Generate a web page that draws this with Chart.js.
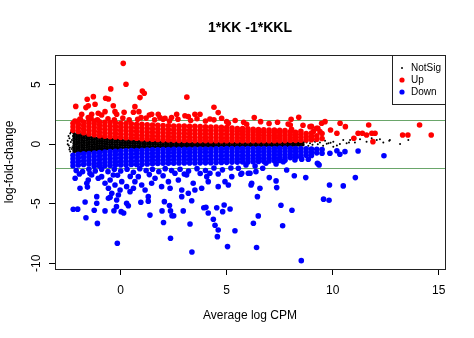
<!DOCTYPE html>
<html>
<head>
<meta charset="utf-8">
<script src="https://cdn.jsdelivr.net/npm/chart.js@4"></script>
<style>
  body { margin: 0; background: #fff; }
  canvas { display: block; }
</style>
</head>
<body>
<canvas id="mdPlot" width="474" height="338"></canvas>
<script>
const plotTitle = '1*KK -1*KKL';
const xTitle = 'Average log CPM';
const yTitle = 'log-fold-change';
const xTicks = [0, 5, 10, 15];
const yTicks = [-10, -5, 0, 5];
const cutoffLines = [2, -2];
const legendLabels = ['NotSig', 'Up', 'Down'];

// dense part of the cloud, one column per entry: [logCPM, logFC, logFC, ...]
const notSigBand = [
  [-2.2, 0.9, 0.7, 0.5, 0.3, 0.1, -0.1, -0.3, -0.5, -0.65],
  [-2.08, 0.8, 0.6, 0.4, 0.2, 0.0, -0.2, -0.4, -0.6],
  [-1.96, 0.88, 0.68, 0.48, 0.28, 0.08, -0.12, -0.32, -0.52, -0.65],
  [-1.84, 0.76, 0.56, 0.36, 0.16, -0.04, -0.24, -0.44, -0.6],
  [-1.72, 0.7, 0.5, 0.3, 0.1, -0.1, -0.3, -0.5, -0.6],
  [-1.6, 0.74, 0.54, 0.34, 0.14, -0.06, -0.26, -0.46, -0.58],
  [-1.48, 0.62, 0.42, 0.22, 0.02, -0.18, -0.38, -0.54],
  [-1.36, 0.56, 0.36, 0.16, -0.04, -0.24, -0.44, -0.55],
  [-1.24, 0.6, 0.4, 0.2, 0.0, -0.2, -0.4, -0.52],
  [-1.12, 0.5, 0.3, 0.1, -0.1, -0.3, -0.48],
  [-1.0, 0.46, 0.26, 0.06, -0.14, -0.34, -0.48],
  [-0.88, 0.5, 0.3, 0.1, -0.1, -0.3, -0.46],
  [-0.76, 0.44, 0.24, 0.04, -0.16, -0.36, -0.44],
  [-0.64, 0.4, 0.2, 0.0, -0.2, -0.38],
  [-0.52, 0.36, 0.16, -0.04, -0.24, -0.4],
  [-0.4, 0.4, 0.2, 0.0, -0.2, -0.36],
  [-0.28, 0.36, 0.16, -0.04, -0.24, -0.38],
  [-0.16, 0.38, 0.18, -0.02, -0.22, -0.36],
  [-0.04, 0.34, 0.14, -0.06, -0.26, -0.36],
  [0.08, 0.32, 0.12, -0.08, -0.28],
  [0.2, 0.3, 0.1, -0.1, -0.3],
  [0.32, 0.32, 0.12, -0.08, -0.28],
  [0.44, 0.28, 0.08, -0.12, -0.3],
  [0.56, 0.3, 0.1, -0.1, -0.28],
  [0.68, 0.26, 0.06, -0.14, -0.3],
  [0.8, 0.28, 0.08, -0.12, -0.28],
  [0.92, 0.24, 0.04, -0.16, -0.28],
  [1.04, 0.22, 0.02, -0.18, -0.26],
  [1.16, 0.24, 0.04, -0.16, -0.26],
  [1.28, 0.2, 0.0, -0.2, -0.26],
  [1.4, 0.22, 0.02, -0.18, -0.24],
  [1.52, 0.18, -0.02, -0.22],
  [1.64, 0.2, 0.0, -0.2],
  [1.76, 0.16, -0.04, -0.22],
  [1.88, 0.18, -0.02, -0.2],
  [2.0, 0.14, -0.06, -0.22],
  [2.12, 0.15, -0.02, -0.2],
  [2.24, 0.12, -0.06, -0.2],
  [2.36, 0.14, -0.04, -0.2],
  [2.48, 0.12, -0.06, -0.2],
  [2.6, 0.13, -0.05, -0.19],
  [2.72, 0.1, -0.08, -0.2],
  [2.84, 0.12, -0.05, -0.19],
  [2.96, 0.1, -0.08, -0.19],
  [3.08, 0.12, -0.05, -0.18],
  [3.2, 0.1, -0.07, -0.18],
  [3.32, 0.12, -0.05, -0.18],
  [3.44, 0.1, -0.08, -0.18],
  [3.56, 0.12, -0.05, -0.17],
  [3.68, 0.1, -0.07, -0.17],
  [3.8, 0.11, -0.05, -0.17],
  [3.92, 0.1, -0.07, -0.17],
  [4.04, 0.1, -0.06, -0.16],
  [4.16, 0.09, -0.07, -0.16],
  [4.28, 0.1, -0.06, -0.16],
  [4.4, 0.09, -0.08, -0.16],
  [4.52, 0.08, -0.1], [4.64, 0.06, -0.12], [4.76, 0.08, -0.1], [4.88, 0.06, -0.12],
  [5.0, 0.08, -0.1], [5.12, 0.06, -0.12], [5.24, 0.08, -0.1], [5.36, 0.06, -0.12],
  [5.48, 0.08, -0.1], [5.6, 0.06, -0.12], [5.72, 0.08, -0.1], [5.84, 0.06, -0.12],
  [5.96, 0.08, -0.1], [6.08, 0.06, -0.11], [6.2, 0.08, -0.1], [6.32, 0.06, -0.11],
  [6.44, 0.08, -0.1], [6.56, 0.06, -0.11], [6.68, 0.08, -0.1], [6.8, 0.06, -0.11],
  [6.92, 0.08, -0.1], [7.04, 0.06, -0.11], [7.16, 0.08, -0.1], [7.28, 0.06, -0.1],
  [7.4, 0.08, -0.1], [7.52, 0.06, -0.1], [7.64, 0.08, -0.1], [7.76, 0.06, -0.1],
  [7.88, 0.08, -0.1], [8.0, 0.06, -0.1], [8.12, 0.1, -0.08], [8.24, 0.05, -0.12],
  [8.36, 0.12, -0.06], [8.48, 0.04, -0.14], [8.6, 0.14, -0.04]
];

// loose black points, left edge and the high-CPM tail
const notSigX = [-2.38, -2.42, -2.35, -2.45, -2.3, -2.38, -2.3, -2.25, -2.3, -2.22, -2.28, -2.46, -2.5, -2.4, -2.35, -2.5, -2.42,
  8.77, 8.93, 9.17, 9.4, 9.64, 9.8, 10.03, 10.34, 10.5, 10.66, 10.82, 11.05, 11.29, 11.6, 11.84, 12.08, 12.39, 12.7, 13.18, 13.57,
  10.03, 10.77, 12.67, 12.23, 9.05, 9.3, 9.55, 9.72, 10.2, 8.85, 9.9];
const notSigY = [0.9, 0.5, 0.2, -0.1, -0.4, -0.6, 1.1, 0.7, 0.35, 0.05, -0.25, 0.7, 0.3, -0.3, 1.0, 0.0, -0.45,
  0.14, 0.08, 0.22, 0.14, 0.3, 0.08, 0.22, 0.03, 0.36, 0.08, 0.36, 0.14, 0.42, 0.22, 0.5, 0.36, 0.14, 0.36, 0.03, 0.36,
  -0.2, 0.14, 0.3, 0.42, -0.05, 0.0, -0.12, 0.05, -0.1, -0.12, 0.12];

const upBand = [
  [-2.25, 1.17, 1.47, 1.77],
  [-2.0, 1.07, 1.37, 1.67, 1.95],
  [-1.75, 0.97, 1.27, 1.57, 1.87],
  [-1.5, 0.87, 1.17, 1.47, 1.77, 2.0],
  [-1.25, 0.8, 1.1, 1.4, 1.7, 1.95],
  [-1.0, 0.72, 1.0, 1.3, 1.6, 1.88],
  [-0.75, 0.68, 0.96, 1.26, 1.56, 1.84],
  [-0.5, 0.64, 0.92, 1.22, 1.52, 1.82],
  [-0.25, 0.61, 0.9, 1.2, 1.5, 1.8],
  [0.0, 0.58, 0.86, 1.16, 1.46, 1.76],
  [0.25, 0.55, 0.84, 1.14, 1.44, 1.74],
  [0.5, 0.53, 0.8, 1.1, 1.4, 1.72],
  [0.75, 0.5, 0.78, 1.08, 1.38, 1.68],
  [1.0, 0.47, 0.76, 1.06, 1.36, 1.68],
  [1.25, 0.45, 0.72, 1.02, 1.32, 1.64],
  [1.5, 0.42, 0.7, 1.0, 1.3, 1.62],
  [1.75, 0.4, 0.68, 0.98, 1.28, 1.6],
  [2.0, 0.37, 0.66, 0.96, 1.26, 1.58],
  [2.25, 0.36, 0.63, 0.93, 1.23, 1.55],
  [2.5, 0.35, 0.62, 0.92, 1.22, 1.54],
  [2.75, 0.33, 0.6, 0.9, 1.2, 1.52],
  [3.0, 0.32, 0.6, 0.9, 1.2, 1.52],
  [3.25, 0.32, 0.58, 0.88, 1.18, 1.5],
  [3.5, 0.31, 0.58, 0.88, 1.18, 1.5],
  [3.75, 0.31, 0.57, 0.87, 1.17, 1.48],
  [4.0, 0.31, 0.57, 0.87, 1.17, 1.47],
  [4.25, 0.3, 0.56, 0.86, 1.16, 1.45],
  [4.5, 0.3, 0.56, 0.86, 1.16, 1.44],
  [4.75, 0.3, 0.55, 0.85, 1.15, 1.42],
  [5.0, 0.3, 0.55, 0.85, 1.15, 1.4],
  [5.25, 0.3, 0.55, 0.84, 1.12, 1.36],
  [5.5, 0.3, 0.54, 0.83, 1.1, 1.33],
  [5.75, 0.3, 0.54, 0.82, 1.08, 1.32],
  [6.0, 0.3, 0.54, 0.8, 1.06, 1.3],
  [6.25, 0.3, 0.53, 0.78, 1.04, 1.26],
  [6.5, 0.3, 0.53, 0.78, 1.02, 1.24],
  [6.75, 0.3, 0.53, 0.76, 1.0, 1.22],
  [7.0, 0.3, 0.52, 0.76, 1.0, 1.2],
  [7.25, 0.3, 0.52, 0.74, 0.98, 1.2],
  [7.5, 0.3, 0.52, 0.74, 0.98, 1.18],
  [7.75, 0.31, 0.53, 0.76, 0.98, 1.16],
  [8.0, 0.32, 0.55, 0.8, 1.04],
  [8.25, 0.33, 0.56, 0.8, 1.0],
  [8.5, 0.34, 0.58, 0.84, 1.08],
  [8.75, 0.36, 0.62, 0.9],
  [9.0, 0.38, 0.66, 0.95],
  [9.25, 0.42, 0.72],
  [9.5, 0.48, 0.9]
];

const upX = [0.12, 0.25, -0.47, 1.02, 1.11, 0.91, 3.12, -1.29, -1.58, -0.71, -0.58, -1.21, -1.53, -1.64, -2.12, -0.35, 0.67, 4.4, 4.6,
  -0.74, -0.9, -1.06, -0.27, -0.19, -1.37, -1.53, -1.84, 0.16, 0.6, 0.86, 0.96, 1.46, 1.35, 1.77, 1.85, 2.09, 2.4, 2.64, 3.03, 3.19,
  3.5, 3.74, 4.21, 4.76, -2.16, -1.92, 5.08, 5.94, 6.3, 8.04, 8.4, 9.64, 9.9, 10.2, 10.35, 10.6, 11.2, 11.4, 11.6, 11.7, 11.85, 12.0,
  11.9, 13.3, 13.55, 14.1, 14.65, 9.1, 11.0, 8.0, 8.06, 8.93, 9.24, 9.48, 9.4,
  -1.9, -1.4, -1.1, -0.6, -0.3, 0.1, 0.4, 0.8, 1.2, 1.6, 2.0, 2.3, 2.7, 3.3, 3.6, 4.0, 4.4, 5.0, 5.4, 5.8, 6.6, 7.0, 7.4, 7.9, 8.6, 9.0, 9.3];
const upY = [6.8, 5.04, 4.65, 4.48, 4.29, 3.92, 3.96, 4.0, 3.78, 3.87, 3.8, 3.36, 3.24, 3.08, 3.18, 3.24, 3.16, 3.11, 2.66,
  2.74, 2.46, 2.6, 2.74, 2.52, 2.52, 2.24, 2.52, 2.69, 2.69, 2.74, 2.24, 2.52, 2.46, 2.52, 2.24, 2.18, 2.24, 2.52, 2.4, 2.32,
  2.52, 2.52, 2.12, 2.18, 1.96, 2.12, 1.76, 1.68, 2.24, 2.1, 2.26, 1.9, 1.2, 0.92, 1.76, 1.48, 0.92, 0.92, 0.78, 1.62, 0.92, 0.92,
  0.22, 0.78, 0.78, 1.62, 0.78, 1.1, 0.5, 1.62, 1.26, 1.48, 1.34, 1.76, 1.06,
  2.1, 2.2, 2.05, 2.15, 2.05, 2.2, 2.05, 2.1, 2.2, 2.05, 2.1, 1.95, 2.1, 2.0, 2.15, 1.95, 2.05, 1.9, 2.0, 1.85, 1.9, 1.75, 1.85, 1.7, 1.6, 1.5, 1.35];

const downBand = [
  [-2.25, -0.92, -1.22, -1.52, -1.8],
  [-2.0, -0.84, -1.14, -1.44, -1.74],
  [-1.75, -0.8, -1.1, -1.4, -1.7],
  [-1.5, -0.77, -1.06, -1.36, -1.66],
  [-1.25, -0.73, -1.02, -1.32, -1.62, -1.85],
  [-1.0, -0.7, -1.0, -1.3, -1.6, -1.82],
  [-0.75, -0.66, -0.95, -1.25, -1.55, -1.8],
  [-0.5, -0.62, -0.9, -1.2, -1.5, -1.78],
  [-0.25, -0.6, -0.88, -1.18, -1.48, -1.75],
  [0.0, -0.57, -0.86, -1.16, -1.46, -1.74],
  [0.25, -0.55, -0.84, -1.14, -1.44, -1.72],
  [0.5, -0.53, -0.82, -1.12, -1.42, -1.7],
  [0.75, -0.52, -0.8, -1.1, -1.4, -1.7],
  [1.0, -0.5, -0.78, -1.08, -1.38, -1.68],
  [1.25, -0.49, -0.77, -1.07, -1.37, -1.66],
  [1.5, -0.47, -0.75, -1.05, -1.35, -1.64],
  [1.75, -0.46, -0.74, -1.04, -1.34, -1.62],
  [2.0, -0.44, -0.72, -1.02, -1.32, -1.6],
  [2.25, -0.44, -0.72, -1.02, -1.32, -1.6],
  [2.5, -0.43, -0.71, -1.01, -1.31, -1.6],
  [2.75, -0.43, -0.7, -1.0, -1.3, -1.58],
  [3.0, -0.42, -0.7, -1.0, -1.3, -1.58],
  [3.25, -0.42, -0.7, -0.99, -1.29, -1.57],
  [3.5, -0.41, -0.69, -0.99, -1.29, -1.57],
  [3.75, -0.41, -0.68, -0.98, -1.28, -1.56],
  [4.0, -0.4, -0.68, -0.98, -1.28, -1.56],
  [4.25, -0.4, -0.67, -0.97, -1.27, -1.55],
  [4.5, -0.39, -0.66, -0.96, -1.26, -1.54],
  [4.75, -0.38, -0.66, -0.96, -1.26, -1.53],
  [5.0, -0.37, -0.65, -0.95, -1.25, -1.52],
  [5.25, -0.37, -0.65, -0.95, -1.24, -1.5],
  [5.5, -0.37, -0.64, -0.94, -1.23, -1.5],
  [5.75, -0.36, -0.64, -0.94, -1.22, -1.49],
  [6.0, -0.36, -0.64, -0.94, -1.22, -1.48],
  [6.25, -0.36, -0.63, -0.92, -1.2, -1.46],
  [6.5, -0.36, -0.63, -0.92, -1.2, -1.44],
  [6.75, -0.35, -0.62, -0.9, -1.18, -1.42],
  [7.0, -0.35, -0.62, -0.9, -1.18, -1.4],
  [7.25, -0.35, -0.61, -0.89, -1.16, -1.38],
  [7.5, -0.34, -0.61, -0.88, -1.15, -1.36],
  [7.75, -0.34, -0.6, -0.88, -1.14, -1.34],
  [8.0, -0.34, -0.6, -0.88, -1.12],
  [8.25, -0.35, -0.61, -0.88, -1.1],
  [8.5, -0.36, -0.62, -0.9, -1.1],
  [8.75, -0.38, -0.65, -0.92],
  [9.0, -0.4, -0.68, -0.95],
  [9.25, -0.42, -0.72],
  [9.5, -0.45, -0.75]
];

const downX = [-2.15, -1.92, -1.53, -1.68, -2.24, -2.03, -1.64, -1.13, -1.25, -1.1, -0.74, -0.32, -0.2, 0.02, 0.14, -0.16, -0.58, -0.42,
  -0.11, 0.28, 0.36, 0.95, 1.3, 1.38, 2.06, 1.95, 2.02, 2.3, 2.35, 2.42, 2.5, 2.35, 2.95, 3.27, 3.35, 3.36, 3.92, 4.02, 4.13, 4.37,
  4.53, 4.45, 4.6, 4.56, 4.81, 4.88, 5.16, 5.04, 5.39, 6.26, 6.41, 6.49, 7.56, 8.08, 7.64, 8.52, 9.57, 9.83, 9.85, 10.5, 11.07, 8.73,
  8.19, 7.83, 7.33, 7.01, 7.36, 6.57, 6.15, 6.45, 5.67, 6.1, 6.38, 6.7, 5.91, 6.34, 6.85, 7.33, 7.67, 8.22, 8.54, 8.85, 9.36, 9.28,
  9.33, 9.87, 10.2, 10.34, 10.58, 11.2, 12.42,
  -1.6, -1.37, -1.06, -0.9, -0.74, -0.58, -0.5, -0.35, -0.27, -0.03, 0.05, 0.28, 0.44, 0.6, 0.67, 0.83, 0.99, 1.15, 1.3, 1.46,
  1.62, 1.93, 2.25, 2.33, 2.56, 2.72, 2.88, 3.11, 3.19, 3.42, 3.5, 3.82, 4.06, 4.13, 4.21, 4.6, 4.92, 5.08, 5.24, 5.55, 5.71, 6.02, 6.18,
  -1.57, -1.13, -0.5, -0.19, 2.88,
  -2.1, -1.8, -1.5, -1.2, -0.9, -0.6, -0.3, 0.0, 0.3, 0.6, 0.9, 1.2, 1.5, 1.8, 2.1, 2.4, 2.8, 3.2, 3.6, 4.0, 4.4, 4.8, 5.2,
  -1.95, -1.45, -0.15, 0.45, 1.35, 2.0, 3.0, 3.75, 4.6];
const downY = [-2.86, -3.7, -3.0, -4.85, -5.46, -5.45, -6.17, -4.96, -5.55, -6.65, -5.6, -5.58, -5.24, -5.66, -5.78, -8.32, -4.54, -4.12,
  -4.26, -4.96, -5.16, -4.87, -4.78, -5.95, -4.82, -5.6, -6.57, -5.14, -5.6, -6.0, -6.0, -7.9, -5.6, -6.7, -4.74, -9.05, -5.33, -5.3, -5.78, -6.3,
  -5.33, -6.8, -7.2, -7.76, -5.66, -5.1, -5.44, -8.6, -7.26, -6.64, -8.67, -6.02, -5.13, -5.55, -6.84, -9.78, -4.61, -4.71, -3.42, -3.5, -2.8, -2.8,
  -2.64, -2.16, -3.08, -2.8, -3.64, -3.7, -3.42, -4.4, -2.52, -2.44, -2.3, -2.02, -1.74, -1.82, -1.6, -1.66, -1.46, -1.32, -1.26, -1.26, -1.74, -1.6,
  -1.68, -0.76, -0.54, -0.84, -0.62, -0.56, -0.96,
  -3.28, -2.58, -2.86, -2.72, -3.28, -3.7, -3.0, -2.58, -3.42, -3.84, -3.14, -3.56, -3.98, -3.7, -3.14, -2.72, -3.42, -3.84, -4.4, -3.28,
  -2.86, -3.56, -3.14, -3.7, -2.44, -3.0, -3.84, -2.58, -4.12, -3.28, -3.84, -3.7, -2.72, -3.14, -2.44, -3.56, -3.14, -3.42, -2.72, -2.02, -2.44, -2.44, -3.28,
  -3.6, -4.4, -4.45, -4.68, -4.4,
  -2.2, -2.3, -2.1, -2.25, -2.1, -2.3, -2.1, -2.25, -2.1, -2.35, -2.05, -2.2, -2.1, -2.3, -2.05, -2.2, -2.1, -2.25, -2.05, -2.2, -2.0, -2.15, -2.0,
  -2.5, -2.45, -2.6, -2.7, -2.55, -2.65, -2.5, -2.45, -2.5];

function bandPoints(cols) {
  const pts = [];
  cols.forEach(c => {
    for (let i = 1; i < c.length; i++) pts.push({x: c[0], y: c[i]});
  });
  return pts;
}

function listPoints(xs, ys) {
  return xs.map((x, i) => ({x: x, y: ys[i]}));
}

const font = 'Liberation Sans, Arial, sans-serif';
const notSigCore = bandPoints(notSigBand);

const decor = {
  id: 'decor',
  beforeDatasetsDraw(chart) {
    const {ctx, chartArea} = chart;
    const ys = chart.scales.y;
    ctx.save();
    ctx.strokeStyle = '#6aa66a';
    ctx.lineWidth = 1;
    cutoffLines.forEach(v => {
      const py = Math.round(ys.getPixelForValue(v)) + 0.5;
      ctx.beginPath();
      ctx.moveTo(chartArea.left, py);
      ctx.lineTo(chartArea.right, py);
      ctx.stroke();
    });
    ctx.restore();
  },
  afterDraw(chart) {
    const {ctx, chartArea} = chart;
    const ys = chart.scales.y;
    ctx.save();

    // frame
    ctx.strokeStyle = '#222';
    ctx.lineWidth = 1;
    ctx.strokeRect(chartArea.left + 0.5, chartArea.top + 0.5,
      chartArea.right - chartArea.left, chartArea.bottom - chartArea.top);

    ctx.fillStyle = '#000';

    // y tick labels, rotated like R
    ctx.font = '12px ' + font;
    ctx.textAlign = 'center';
    ctx.textBaseline = 'middle';
    yTicks.forEach(v => {
      ctx.save();
      ctx.translate(37, ys.getPixelForValue(v));
      ctx.rotate(-Math.PI / 2);
      ctx.fillText(String(v), 0, 0);
      ctx.restore();
    });

    const cx = (chartArea.left + chartArea.right) / 2;
    const cy = (chartArea.top + chartArea.bottom) / 2;

    ctx.fillText(xTitle, cx, 316);
    ctx.save();
    ctx.translate(10, cy);
    ctx.rotate(-Math.PI / 2);
    ctx.fillText(yTitle, 0, 0);
    ctx.restore();

    ctx.font = 'bold 14px ' + font;
    ctx.fillText(plotTitle, cx, 28);

    // legend box, top right
    const lx = 392, ly = chartArea.top;
    ctx.fillStyle = '#fff';
    ctx.fillRect(lx, ly, chartArea.right - lx, 49);
    ctx.strokeStyle = '#222';
    ctx.strokeRect(lx + 0.5, ly + 0.5, chartArea.right - lx, 49);
    ctx.font = '10px ' + font;
    ctx.textAlign = 'left';
    chart.data.datasets.forEach((ds, i) => {
      const iy = ly + 13 + i * 12;
      ctx.fillStyle = ds.backgroundColor;
      ctx.beginPath();
      ctx.arc(402, iy, i === 0 ? 1 : 2.6, 0, Math.PI * 2);
      ctx.fill();
      ctx.fillStyle = '#000';
      ctx.fillText(legendLabels[i], 411, iy);
    });
    ctx.restore();
  }
};

const axisGrid = {
  display: true,
  drawOnChartArea: false,
  drawTicks: true,
  tickLength: 6,
  color: '#000',
  lineWidth: 1
};

// core of the black cloud is solid in the original, loose points are tiny
const notSigRadius = ctx => (ctx.dataIndex < notSigCore.length ? 1.7 : 1);

new Chart(document.getElementById('mdPlot'), {
  type: 'scatter',
  data: {
    datasets: [
      {
        label: legendLabels[0],
        data: notSigCore.concat(listPoints(notSigX, notSigY)),
        backgroundColor: '#000',
        borderWidth: 0,
        pointRadius: notSigRadius,
        pointHoverRadius: notSigRadius,
        order: 3
      },
      {
        label: legendLabels[1],
        data: bandPoints(upBand).concat(listPoints(upX, upY)),
        backgroundColor: '#ff0000',
        borderWidth: 0,
        pointRadius: 2.8,
        pointHoverRadius: 2.8,
        order: 2
      },
      {
        label: legendLabels[2],
        data: bandPoints(downBand).concat(listPoints(downX, downY)),
        backgroundColor: '#0000ff',
        borderWidth: 0,
        pointRadius: 2.8,
        pointHoverRadius: 2.8,
        order: 1
      }
    ]
  },
  options: {
    responsive: false,
    animation: false,
    events: [],
    layout: { padding: { top: 55, right: 29, left: 0, bottom: 0 } },
    plugins: {
      legend: { display: false },
      tooltip: { enabled: false },
      title: { display: false }
    },
    scales: {
      x: {
        type: 'linear',
        min: -3.1,
        max: 15.3,
        afterFit: s => { s.height = 69; },
        afterBuildTicks: s => { s.ticks = xTicks.map(v => ({value: v})); },
        grid: axisGrid,
        border: { display: true, color: '#222' },
        ticks: {
          color: '#000',
          font: { size: 12, family: font },
          padding: 8,
          maxRotation: 0,
          callback: v => String(v)
        }
      },
      y: {
        type: 'linear',
        min: -10.48,
        max: 7.5,
        afterFit: s => { s.width = 55; },
        afterBuildTicks: s => { s.ticks = yTicks.map(v => ({value: v})); },
        grid: axisGrid,
        border: { display: true, color: '#222' },
        ticks: { display: false }
      }
    }
  },
  plugins: [decor]
});
</script>
</body>
</html>
